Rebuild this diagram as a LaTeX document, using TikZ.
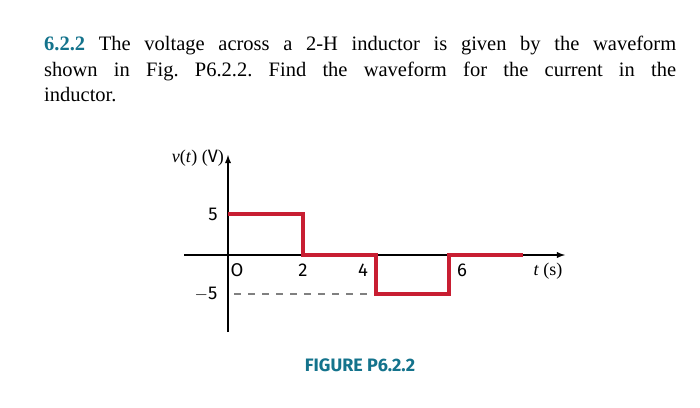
\documentclass[tikz,border=0pt]{standalone}
\usepackage{fontspec}
\setmainfont{Liberation Serif}
\setsansfont{Fira Sans}
\definecolor{teal1}{RGB}{20,115,140}
\definecolor{red1}{RGB}{200,30,50}
\begin{document}
\begin{tikzpicture}[x=1pt,y=-1pt,
  lbl/.style={font=\sffamily\fontsize{18.5}{18.5}\selectfont,inner sep=0pt},
  ax/.style={line width=1.8pt,-latex},
  wave/.style={red1,line width=3.4pt}]
\useasboundingbox (0,0) rectangle (700,407);
\node[anchor=north west,inner sep=0pt,text width=632pt,align=justify,
  font=\fontsize{20.5}{25.5}\selectfont] (txt) at (44,36)
 {\frenchspacing\textcolor{teal1}{\textbf{6.2.2}} The voltage across a 2-H inductor is given by the waveform shown in Fig. P6.2.2. Find the waveform for the current in the\linebreak inductor.};
\coordinate (o) at (228,255);
\coordinate (yb) at (228,332);
\coordinate (yt) at (228,155);
\coordinate (xl) at (184,255);
\coordinate (xr) at (565,255);
\draw[ax] (yb) -- (yt);
\draw[ax] (xl) -- (xr);
\coordinate (d0) at (234,294);
\coordinate (d1) at (376,294);
\draw[gray,line width=1.6pt,dash pattern=on 7pt off 7pt] (d0) -- (d1);
\coordinate (p0) at (228,214);
\draw[wave] (p0) -- (303,214) -- (303,255) -- (376,255) -- (376,294) -- (449,294) -- (449,255) -- (523,255);
\node[lbl] (l5) at (213,214) {5};
\node[lbl] (lm5) at (206,294) {$-$5};
\node[lbl] (l0) at (237,270) {O};
\node[lbl] (l2) at (303,270) {2};
\node[lbl] (l4) at (363,270) {4};
\node[lbl] (l6) at (462,270) {6};
\node[inner sep=0pt,font=\fontsize{18}{18}\selectfont] (ts) at (548,271) {\textit{t} (s)};
\node[inner sep=0pt,anchor=east,font=\fontsize{18}{18}\selectfont] (vt) at (224,158) {\textit{v}(\textit{t}) (\textsf{V})};
\node[inner sep=0pt,font=\sffamily\bfseries\fontsize{18}{18}\selectfont,text=teal1] (fig) at (360,365) {FIGURE P6.2.2};
\end{tikzpicture}
\end{document}
